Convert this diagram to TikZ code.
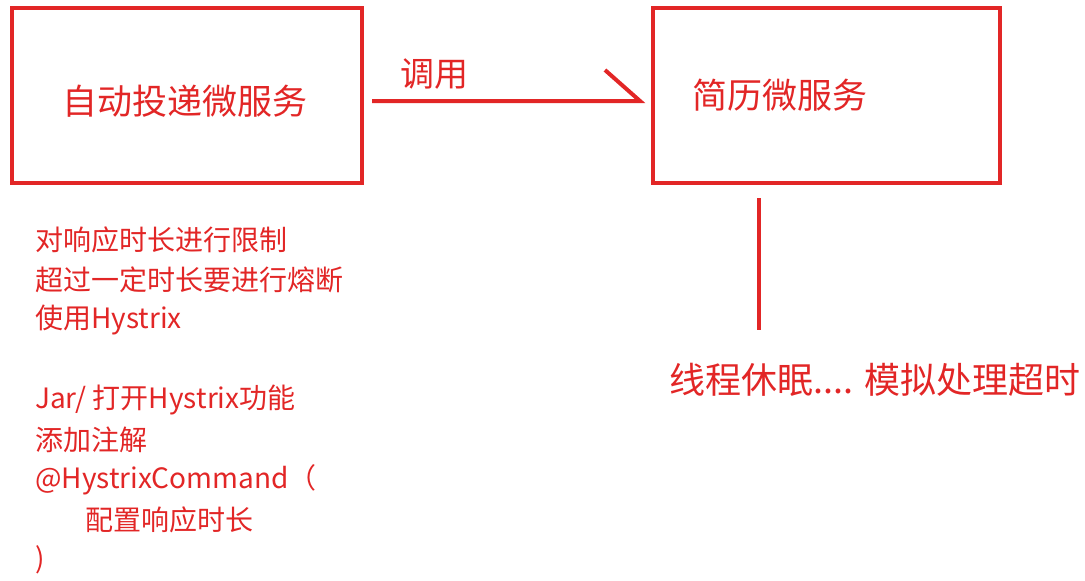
\documentclass[tikz,border=0pt]{standalone}
\usepackage{fontspec}
\setmainfont{Noto Sans CJK SC}
\begin{document}
\begin{tikzpicture}[x=1pt,y=-1pt]
\definecolor{rd}{RGB}{226,38,38}
\tikzset{box/.style={draw=rd,line width=4pt},ln/.style={draw=rd,line width=4pt},
lbl/.style={text=rd,font=\fontsize{35}{40}\selectfont},
note/.style={text=rd,anchor=west,font=\fontsize{28}{32}\selectfont,inner sep=0}}
\useasboundingbox (0,0) rectangle (1085,581);
\draw[box] (12,8) rectangle (362,183);
\node[lbl] (a) at (185,101) {自动投递微服务};
\coordinate (ae) at (372,101);
\draw[box] (653,8) rectangle (1000,183);
\node[lbl] (b) at (780,95) {简历微服务};
\coordinate (be) at (640,101);
\coordinate (tip) at (605,70);
\draw[ln] (ae) -- (be) -- (tip);
\node[lbl,font=\fontsize{34}{38}\selectfont] (c) at (434,74) {调用};
\coordinate (v1) at (759,198); \coordinate (v2) at (759,330);
\draw[ln] (v1) -- (v2);
\node[lbl,font=\fontsize{36}{40}\selectfont] (s) at (875,380) {线程休眠.... 模拟处理超时};
\node[note] (n1) at (35,240) {对响应时长进行限制};
\node[note] (n2) at (35,280) {超过一定时长要进行熔断};
\node[note] (n3) at (35,320) {使用Hystrix};
\node[note] (n4) at (35,400) {Jar/ 打开Hystrix功能};
\node[note] (n5) at (35,440) {添加注解};
\node[note] (n6) at (35,480) {@HystrixCommand（};
\node[note] (n7) at (85,520) {配置响应时长};
\node[note] (n8) at (35,560) {)};
\end{tikzpicture}
\end{document}
